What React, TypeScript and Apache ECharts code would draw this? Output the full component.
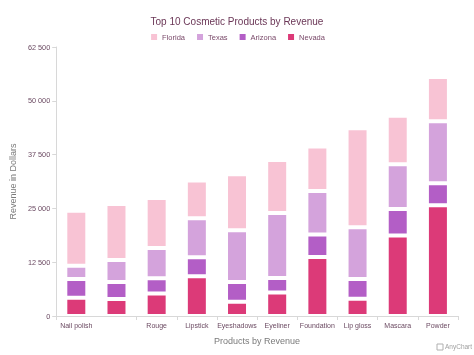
import React, { useEffect, useRef } from "react";
import * as echarts from "echarts";

const categories = [
  "Nail polish",
  "Eyebrow pencil",
  "Rouge",
  "Lipstick",
  "Eyeshadows",
  "Eyeliner",
  "Foundation",
  "Lip gloss",
  "Mascara",
  "Powder",
];
const florida = [12814, 13012, 11624, 8814, 12998, 12321, 10342, 22998, 11261, 10261];
const texas = [3054, 5067, 7004, 9054, 12043, 15067, 10119, 12043, 10419, 14419];
const arizona = [4376, 3987, 3574, 4376, 4572, 3417, 5231, 4572, 6134, 5134];
const nevada = [4229, 3932, 5221, 9256, 3308, 5432, 13701, 4008, 18712, 25712];
const yTicks = [0, 12500, 25000, 37500, 50000, 62500];

const FONT = "'Liberation Sans', Arial, sans-serif";

export default function App() {
  const ref = useRef<HTMLDivElement>(null);
  useEffect(() => {
    if (!ref.current) return;
    const chart = echarts.init(ref.current, undefined, { renderer: "svg" });
    const mk = (name: string, data: number[], color: string) => ({
      name,
      type: "bar",
      stack: "total",
      data,
      barWidth: 22,
      itemStyle: { color, borderColor: "#ffffff", borderWidth: 2 },
    });
    chart.setOption({
      animation: false,
      textStyle: { fontFamily: FONT },
      title: {
        text: "Top 10 Cosmetic Products by Revenue",
        left: "center",
        top: 11,
        textStyle: { fontSize: 10, fontWeight: "normal", color: "#6b3757", fontFamily: FONT },
      },
      legend: {
        top: 27,
        left: "center",
        itemWidth: 8,
        itemHeight: 8,
        itemGap: 10,
        icon: "rect",
        data: ["Florida", "Texas", "Arizona", "Nevada"],
        textStyle: { fontSize: 7.5, color: "#7a4a6a", fontFamily: FONT, padding: [0, 0, 0, -1] },
      },
      grid: { left: 53, right: 16, top: 47, bottom: 39, containLabel: false },
      xAxis: {
        type: "category",
        data: categories,
        name: "Products by Revenue",
        nameLocation: "middle",
        nameGap: 20,
        nameTextStyle: { fontSize: 9, color: "#7a7a7a", fontFamily: FONT },
        axisLine: { lineStyle: { color: "#d8d8d8" } },
        axisTick: { show: true, length: 4, lineStyle: { color: "#d8d8d8" } },
        axisLabel: {
          interval: (i: number) => i !== 1,
          fontSize: 7,
          color: "#6b4a62",
          margin: 6,
          fontFamily: FONT,
        },
      },
      yAxis: {
        type: "value",
        min: 0,
        max: 62500,
        interval: 12500,
        name: "Revenue in Dollars",
        nameLocation: "middle",
        nameGap: 34,
        nameTextStyle: { fontSize: 9, color: "#7a7a7a", fontFamily: FONT },
        axisLine: { show: true, lineStyle: { color: "#d8d8d8" } },
        axisTick: { show: true, length: 4, lineStyle: { color: "#d8d8d8" } },
        splitLine: { show: false },
        axisLabel: {
          fontSize: 7.3,
          color: "#6b4a62",
          margin: 6,
          fontFamily: FONT,
          formatter: (v: number) =>
            yTicks.includes(v) ? String(v).replace(/\B(?=(\d{3})+(?!\d))/g, " ") : "",
        },
      },
      series: [
        mk("Nevada", nevada, "#dc3a78"),
        mk("Arizona", arizona, "#b35ec6"),
        mk("Texas", texas, "#d4a3dc"),
        mk("Florida", florida, "#f8c3d4"),
      ],
      graphic: [
        {
          type: "rect",
          shape: { x: 437, y: 344, width: 6, height: 6 },
          style: { fill: "#ffffff", stroke: "#b0b0b0", lineWidth: 1 },
        },
        {
          type: "text",
          x: 445,
          y: 343,
          style: { text: "AnyChart", fontSize: 6.5, fill: "#a0a0a0", fontFamily: FONT },
        },
      ],
    });
    return () => chart.dispose();
  }, []);
  return (
    <div
      ref={ref}
      style={{ width: 474, height: 355, position: "fixed", left: 0, top: 0 }}
    />
  );
}
